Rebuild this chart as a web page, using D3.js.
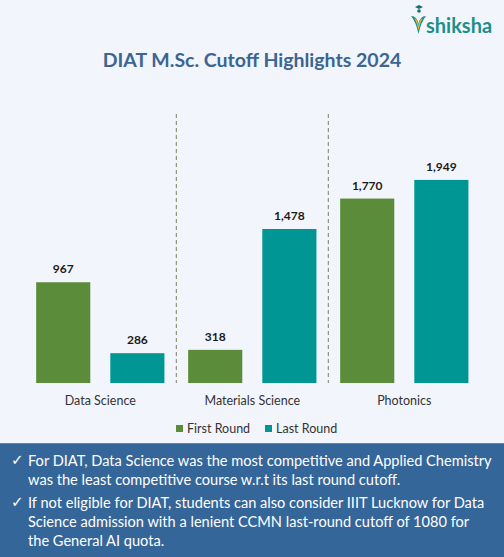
<!DOCTYPE html>
<html>
<head>
<meta charset="utf-8">
<script src="https://cdn.jsdelivr.net/npm/d3@7"></script>
<style>
  body { margin: 0; background: #f3f5fc; }
  svg { display: block; font-family: "Lato", "Open Sans", sans-serif; }
</style>
</head>
<body>
<div id="chart"></div>
<script>
// chart values
var courses = ["Data Science", "Materials Science", "Photonics"];
var rounds = ["First Round", "Last Round"];
var firstRound = [967, 318, 1770];
var lastRound = [286, 1478, 1949];
var notes = [
    ["For DIAT, Data Science was the most competitive and Applied Chemistry",
     "was the least competitive course w.r.t its last round cutoff."],
    ["If not eligible for DIAT, students can also consider IIIT Lucknow for Data",
     "Science admission with a lenient CCMN last-round cutoff of 1080 for",
     "the General AI quota."]
];

var width = 504, height = 557;
var colors = {"First Round": "#5b8c39", "Last Round": "#009694"};

var svg = d3.select("#chart").append("svg")
    .attr("width", width)
    .attr("height", height);

svg.append("rect")
    .attr("width", width).attr("height", height)
    .attr("fill", "#f3f5fc");

// title
svg.append("text")
    .attr("x", 252).attr("y", 67)
    .attr("text-anchor", "middle")
    .attr("font-size", "19.5px")
    .attr("font-weight", "bold")
    .attr("fill", "#3b6592")
    .text("DIAT M.Sc. Cutoff Highlights 2024");

// logo
var logo = svg.append("g").attr("transform", "translate(411,0)");
logo.append("path")
    .attr("d", "M0,16 Q6,16 7.5,24 Q9,16 15,16 Q10,22 7.5,34 Q5,22 0,16 Z")
    .attr("fill", "#1b8f8a");
logo.append("path")
    .attr("d", "M3.5,18 Q7,20 7.5,27 Q8,20 11.5,18 Q9,23 7.5,30 Q6,23 3.5,18 Z")
    .attr("fill", "#f2b632");
logo.append("path")
    .attr("d", "M4,7 L8,5 L12,7 L8,9 Z")
    .attr("fill", "#1b6e6a");
logo.append("circle").attr("cx", 8).attr("cy", 11).attr("r", 1.8).attr("fill", "#1b6e6a");
logo.append("text")
    .attr("x", 15).attr("y", 33)
    .attr("font-size", "20px")
    .attr("font-weight", "bold")
    .attr("fill", "#1b8f8a")
    .text("shiksha");

// scales
var x0 = d3.scaleBand()
    .domain(courses)
    .range([24.3, 480.3]);

var x1 = d3.scaleBand()
    .domain(rounds)
    .range([0, x0.bandwidth()])
    .paddingInner(0.27)
    .paddingOuter(0.16);

var y = d3.scaleLinear()
    .domain([0, 2500])
    .range([383, 122.5]);

var data = courses.map(function(c, i){
    return {course: c, values: [
        {round: rounds[0], value: firstRound[i]},
        {round: rounds[1], value: lastRound[i]}
    ]};
});

// dashed separators between groups
svg.selectAll(".sep")
    .data(courses.slice(1))
    .enter().append("line")
    .attr("class", "sep")
    .attr("x1", function(d){ return x0(d); })
    .attr("x2", function(d){ return x0(d); })
    .attr("y1", 114)
    .attr("y2", y(0))
    .attr("stroke", "#7f8060")
    .attr("stroke-width", 1)
    .attr("stroke-dasharray", "4,3");

var groups = svg.selectAll(".group")
    .data(data)
    .enter().append("g")
    .attr("class", "group")
    .attr("transform", function(d){ return "translate(" + x0(d.course) + ",0)"; });

groups.selectAll("rect")
    .data(function(d){ return d.values; })
    .enter().append("rect")
    .attr("x", function(d){ return x1(d.round); })
    .attr("y", function(d){ return y(d.value); })
    .attr("width", x1.bandwidth())
    .attr("height", function(d){ return y(0) - y(d.value); })
    .attr("fill", function(d){ return colors[d.round]; });

groups.selectAll(".val")
    .data(function(d){ return d.values; })
    .enter().append("text")
    .attr("class", "val")
    .attr("x", function(d){ return x1(d.round) + x1.bandwidth() / 2; })
    .attr("y", function(d){ return y(d.value) - 9; })
    .attr("text-anchor", "middle")
    .attr("font-size", "12px")
    .attr("font-weight", "bold")
    .attr("fill", "#1a1a1a")
    .text(function(d){ return d3.format(",")(d.value); });

// category axis labels
var xAxis = svg.append("g")
    .attr("transform", "translate(0," + y(0) + ")")
    .call(d3.axisBottom(x0).tickSize(0).tickPadding(13));
xAxis.select(".domain").remove();
xAxis.selectAll("text")
    .attr("font-size", "12.5px")
    .attr("font-family", "Lato, sans-serif")
    .attr("fill", "#333");

// legend
var legend = svg.append("g").attr("transform", "translate(176,429)");
var legendX = [0, 89];
rounds.forEach(function(r, i){
    var g = legend.append("g").attr("transform", "translate(" + legendX[i] + ",0)");
    g.append("rect")
        .attr("x", 0).attr("y", -4)
        .attr("width", 7).attr("height", 7)
        .attr("fill", colors[r]);
    g.append("text")
        .attr("x", 11).attr("y", 4)
        .attr("font-size", "12.5px")
        .attr("fill", "#333")
        .text(r);
});

// notes box
svg.append("rect")
    .attr("x", 0).attr("y", 443)
    .attr("width", width).attr("height", height - 443)
    .attr("fill", "#35669a");
svg.append("line")
    .attr("x1", 0).attr("x2", width)
    .attr("y1", 443.5).attr("y2", 443.5)
    .attr("stroke", "#5b86b4");

var lineY = 466;
notes.forEach(function(note){
    svg.append("text")
        .attr("x", 11).attr("y", lineY - 1)
        .attr("font-size", "15px")
        .attr("fill", "#fff")
        .attr("font-family", "DejaVu Sans, sans-serif")
        .text("\u2713");
    note.forEach(function(line, j){
        svg.append("text")
            .attr("x", 28).attr("y", lineY + j * 19)
            .attr("font-size", "14.6px")
            .attr("fill", "#fff")
            .text(line);
    });
    lineY += note.length * 19 + 4;
});
</script>
</body>
</html>
